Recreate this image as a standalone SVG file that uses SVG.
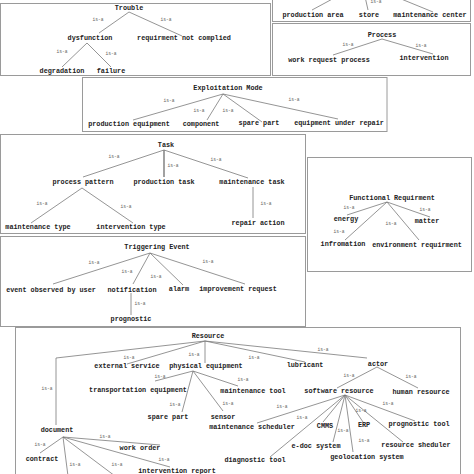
<svg xmlns="http://www.w3.org/2000/svg" width="474" height="474" viewBox="0 0 474 474">
<style>
.box{fill:#fff;stroke:#9a9a9a;stroke-width:1}
.t{font-family:"Liberation Mono","DejaVu Sans Mono",monospace;font-size:6.8px;font-weight:bold;fill:#222;text-anchor:middle}
.l{font-family:"Liberation Mono","DejaVu Sans Mono",monospace;font-size:4.6px;fill:#666;text-anchor:middle}
.c line,.c path{stroke:#7a7a7a;stroke-width:0.8;fill:none}
</style>
<rect width="474" height="474" fill="#fff"/>
<g id="boxes">
<rect class="box" x="0.5" y="3.5" width="270" height="72"/>
<rect class="box" x="272.5" y="-5" width="198" height="26.5"/>
<rect class="box" x="272.5" y="23.5" width="198" height="52"/>
<rect class="box" x="82.5" y="77.5" width="304.5" height="54"/>
<rect class="box" x="0.5" y="134.5" width="305" height="99"/>
<rect class="box" x="307.5" y="157.5" width="164" height="114"/>
<rect class="box" x="0.5" y="236.5" width="305" height="90"/>
<rect class="box" x="15.5" y="327.5" width="445" height="160"/>
</g>
<g class="c" id="connectors">
<line x1="129" y1="12" x2="99" y2="33"/>
<line x1="129" y1="12" x2="182" y2="36"/>
<line x1="87" y1="43" x2="62" y2="67"/>
<line x1="87" y1="43" x2="111" y2="67"/>
<line x1="362" y1="-17" x2="312" y2="10"/>
<line x1="362" y1="-17" x2="368" y2="10"/>
<line x1="362" y1="-17" x2="433" y2="12"/>
<line x1="382" y1="39" x2="333" y2="55"/>
<line x1="382" y1="39" x2="433" y2="54"/>
<line x1="223" y1="94" x2="133" y2="120"/>
<line x1="223" y1="94" x2="207" y2="120"/>
<line x1="223" y1="94" x2="262" y2="122"/>
<line x1="223" y1="94" x2="338" y2="119"/>
<line x1="164" y1="150" x2="83" y2="177"/>
<line x1="164" y1="150" x2="164" y2="177" style="stroke-width:1.4"/>
<line x1="164" y1="150" x2="248" y2="178"/>
<line x1="82" y1="188" x2="31" y2="223"/>
<line x1="82" y1="188" x2="133" y2="223"/>
<line x1="253" y1="187" x2="253" y2="218"/>
<line x1="387" y1="202" x2="347" y2="215"/>
<line x1="387" y1="202" x2="345" y2="240"/>
<line x1="387" y1="202" x2="419" y2="240"/>
<line x1="387" y1="202" x2="430" y2="217"/>
<line x1="150" y1="253" x2="53" y2="284"/>
<line x1="150" y1="253" x2="133" y2="284"/>
<line x1="150" y1="253" x2="183" y2="285"/>
<line x1="150" y1="253" x2="245" y2="284"/>
<line x1="131" y1="293" x2="131" y2="315"/>
<path d="M205 341 L56 358 L56 425"/>
<line x1="205" y1="341" x2="127" y2="364"/>
<line x1="205" y1="341" x2="205" y2="363"/>
<line x1="205" y1="341" x2="305" y2="362"/>
<line x1="205" y1="341" x2="367" y2="358"/>
<line x1="193" y1="371" x2="155" y2="381"/>
<line x1="193" y1="371" x2="182" y2="412"/>
<line x1="193" y1="371" x2="223" y2="411"/>
<line x1="193" y1="371" x2="238" y2="386"/>
<line x1="377" y1="367" x2="337" y2="388"/>
<line x1="377" y1="367" x2="418" y2="388"/>
<line x1="345" y1="395" x2="257" y2="423"/>
<line x1="345" y1="395" x2="270" y2="457"/>
<line x1="345" y1="395" x2="323" y2="422"/>
<line x1="345" y1="395" x2="333" y2="442"/>
<line x1="345" y1="395" x2="353" y2="452"/>
<line x1="345" y1="395" x2="363" y2="422"/>
<line x1="345" y1="395" x2="403" y2="442"/>
<line x1="345" y1="395" x2="415" y2="421"/>
<line x1="63" y1="437" x2="40" y2="453"/>
<line x1="63" y1="437" x2="160" y2="445"/>
<line x1="63" y1="437" x2="170" y2="467"/>
<line x1="63" y1="437" x2="68" y2="476"/>
<line x1="63" y1="437" x2="115" y2="476"/>
</g>
<g id="labels">
<text class="l" x="98" y="21">is-a</text>
<text class="l" x="166" y="21">is-a</text>
<text class="l" x="62" y="53">is-a</text>
<text class="l" x="111" y="55">is-a</text>
<text class="l" x="376" y="3">is-a</text>
<text class="l" x="348" y="46">is-a</text>
<text class="l" x="421" y="47">is-a</text>
<text class="l" x="169" y="102">is-a</text>
<text class="l" x="199" y="112">is-a</text>
<text class="l" x="228" y="112">is-a</text>
<text class="l" x="294" y="101">is-a</text>
<text class="l" x="114" y="158">is-a</text>
<text class="l" x="173" y="167">is-a</text>
<text class="l" x="216" y="161">is-a</text>
<text class="l" x="42" y="205">is-a</text>
<text class="l" x="126" y="208">is-a</text>
<text class="l" x="266" y="205">is-a</text>
<text class="l" x="349" y="209">is-a</text>
<text class="l" x="339" y="233">is-a</text>
<text class="l" x="391" y="225">is-a</text>
<text class="l" x="425" y="211">is-a</text>
<text class="l" x="94" y="264">is-a</text>
<text class="l" x="127" y="273">is-a</text>
<text class="l" x="156" y="278">is-a</text>
<text class="l" x="208" y="263">is-a</text>
<text class="l" x="140" y="305">is-a</text>
<text class="l" x="47" y="390">is-a</text>
<text class="l" x="129" y="359">is-a</text>
<text class="l" x="194" y="356">is-a</text>
<text class="l" x="254" y="359">is-a</text>
<text class="l" x="323" y="351">is-a</text>
<text class="l" x="160" y="378">is-a</text>
<text class="l" x="243" y="381">is-a</text>
<text class="l" x="175" y="406">is-a</text>
<text class="l" x="228" y="405">is-a</text>
<text class="l" x="349" y="377">is-a</text>
<text class="l" x="411" y="378">is-a</text>
<text class="l" x="282" y="408">is-a</text>
<text class="l" x="302" y="419">is-a</text>
<text class="l" x="343" y="432">is-a</text>
<text class="l" x="361" y="412">is-a</text>
<text class="l" x="364" y="442">is-a</text>
<text class="l" x="388" y="405">is-a</text>
<text class="l" x="40" y="446">is-a</text>
<text class="l" x="105" y="438">is-a</text>
<text class="l" x="164" y="461">is-a</text>
<text class="l" x="75" y="466">is-a</text>
<text class="l" x="117" y="466">is-a</text>
</g>
<g id="trouble">
<text class="t" x="129" y="9.5">Trouble</text>
<text class="t" x="90" y="40">dysfunction</text>
<text class="t" x="184" y="40">requirment not complied</text>
<text class="t" x="62" y="73">degradation</text>
<text class="t" x="111" y="73">failure</text>
</g>
<g id="location">
<text class="t" x="313" y="17">production area</text>
<text class="t" x="369" y="17">store</text>
<text class="t" x="430" y="17">maintenance center</text>
</g>
<g id="process">
<text class="t" x="382" y="37">Process</text>
<text class="t" x="329" y="62">work request process</text>
<text class="t" x="424" y="60">intervention</text>
</g>
<g id="exploitation-mode">
<text class="t" x="228" y="90">Exploitation Mode</text>
<text class="t" x="129" y="126">production equipment</text>
<text class="t" x="201" y="126">component</text>
<text class="t" x="259" y="125">spare part</text>
<text class="t" x="339" y="125">equipment under repair</text>
</g>
<g id="task">
<text class="t" x="166" y="147">Task</text>
<text class="t" x="83" y="184">process pattern</text>
<text class="t" x="164" y="184">production task</text>
<text class="t" x="252" y="184">maintenance task</text>
<text class="t" x="38" y="229">maintenance type</text>
<text class="t" x="131" y="229">intervention type</text>
<text class="t" x="258" y="225">repair action</text>
</g>
<g id="functional-requirement">
<text class="t" x="392" y="200">Functional Requirment</text>
<text class="t" x="346" y="221">energy</text>
<text class="t" x="427" y="223">matter</text>
<text class="t" x="343" y="246">infromation</text>
<text class="t" x="417" y="247">environment requirment</text>
</g>
<g id="triggering-event">
<text class="t" x="157" y="249">Triggering Event</text>
<text class="t" x="51" y="292">event observed by user</text>
<text class="t" x="132" y="292">notification</text>
<text class="t" x="179" y="291">alarm</text>
<text class="t" x="238" y="291">improvement request</text>
<text class="t" x="131" y="321">prognostic</text>
</g>
<g id="resource">
<text class="t" x="208" y="338">Resource</text>
<text class="t" x="57" y="432">document</text>
<text class="t" x="127" y="368">external service</text>
<text class="t" x="206" y="368">physical equipment</text>
<text class="t" x="305" y="367">lubricant</text>
<text class="t" x="378" y="366">actor</text>
<text class="t" x="138" y="392">transportation equipment</text>
<text class="t" x="253" y="393">maintenance tool</text>
<text class="t" x="168" y="419">spare part</text>
<text class="t" x="223" y="419">sensor</text>
<text class="t" x="339" y="393">software resource</text>
<text class="t" x="421" y="394">human resource</text>
<text class="t" x="252" y="429">maintenance scheduler</text>
<text class="t" x="255" y="462">diagnostic tool</text>
<text class="t" x="325" y="428">CMMS</text>
<text class="t" x="316" y="448">e-doc system</text>
<text class="t" x="367" y="459">geolocation system</text>
<text class="t" x="364" y="427">ERP</text>
<text class="t" x="416" y="447">resource sheduler</text>
<text class="t" x="419" y="426">prognostic tool</text>
<text class="t" x="42" y="461">contract</text>
<text class="t" x="140" y="450">work order</text>
<text class="t" x="177" y="473">intervention report</text>
</g>
</svg>
